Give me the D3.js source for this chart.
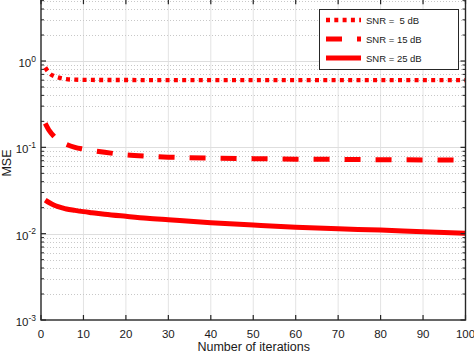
<!DOCTYPE html>
<html>
<head>
<meta charset="utf-8">
<script src="https://cdn.jsdelivr.net/npm/d3@7"></script>
<style>
  body { margin: 0; background: #fff; }
  svg text { font-family: "Liberation Sans", Arial, sans-serif; fill: #1a1a1a; }
</style>
</head>
<body>
<div id="chart-area"></div>
<script>
// data
let iterations = [1, 2, 3, 4, 5, 6, 8, 10, 12, 15, 20, 25, 30, 40, 50, 60, 70, 80, 90, 100];
let mse5 = [0.84, 0.72, 0.67, 0.645, 0.627, 0.616, 0.608, 0.605, 0.604, 0.603, 0.602, 0.601, 0.601, 0.600, 0.600, 0.600, 0.600, 0.600, 0.600, 0.600];
let mse15 = [0.19, 0.155, 0.135, 0.122, 0.114, 0.108, 0.1, 0.0955, 0.092, 0.0875, 0.082, 0.079, 0.077, 0.075, 0.074, 0.073, 0.0725, 0.072, 0.0715, 0.071];
let mse25 = [0.0245, 0.0228, 0.0215, 0.0206, 0.0199, 0.0193, 0.0186, 0.018, 0.0175, 0.0168, 0.0159, 0.0151, 0.0145, 0.0134, 0.0126, 0.0119, 0.0114, 0.011, 0.0105, 0.0101];
let seriesNames = ["SNR =  5 dB", "SNR = 15 dB", "SNR = 25 dB"];
let xTicks = [0, 10, 20, 30, 40, 50, 60, 70, 80, 90, 100];
let yMajor = [1e-3, 1e-2, 1e-1, 1e0];
let yExp = ["-3", "-2", "-1", "0"];

let W = 474, H = 354;
let pLeft = 41, pRight = 465.5, pBottom = 320;
let yTopVal = 5.2;

let svg = d3.select("#chart-area").append("svg")
    .attr("width", W).attr("height", H);

// Scales
let x = d3.scaleLinear().domain([0, 100]).range([pLeft, pRight]);
let y = d3.scaleLog().domain([1e-3, yTopVal]).range([pBottom, -0.8]);
let pTop = y(yTopVal);

// minor ticks 2..9 per decade
let yMinor = [];
[1e-3, 1e-2, 1e-1, 1].forEach(b => {
    for (let k = 2; k <= 9; k++) if (b * k <= yTopVal) yMinor.push(b * k);
});

// grid
let grid = svg.append("g");
grid.selectAll(".gx").data(xTicks.slice(1, -1)).enter().append("line")
    .attr("x1", d => x(d)).attr("x2", d => x(d))
    .attr("y1", pTop).attr("y2", pBottom)
    .attr("stroke", "#e3e3e3").attr("stroke-width", 1);
grid.selectAll(".gmin").data(yMinor).enter().append("line")
    .attr("x1", pLeft).attr("x2", pRight)
    .attr("y1", d => Math.round(y(d)) + 0.5).attr("y2", d => Math.round(y(d)) + 0.5)
    .attr("stroke", "#c8c8c8").attr("stroke-width", 1)
    .attr("stroke-dasharray", "1,2");
grid.selectAll(".gmaj").data(yMajor.slice(1)).enter().append("line")
    .attr("x1", pLeft).attr("x2", pRight)
    .attr("y1", d => Math.round(y(d)) + 0.5).attr("y2", d => Math.round(y(d)) + 0.5)
    .attr("stroke", "#dedede").attr("stroke-width", 1);

// curves
svg.append("clipPath").attr("id", "clip").append("rect")
    .attr("x", pLeft).attr("y", pTop).attr("width", pRight - pLeft).attr("height", pBottom - pTop);

let line = d3.line()
    .x((d, i) => x(iterations[i]))
    .y(d => y(d))
    .curve(d3.curveMonotoneX);

let styles = [
    {data: mse5, dash: "4,4.3", width: 4.4},
    {data: mse15, dash: "16,15", width: 5},
    {data: mse25, dash: null, width: 5}
];

let plot = svg.append("g").attr("clip-path", "url(#clip)");
styles.forEach(s => {
    plot.append("path")
        .attr("d", line(s.data))
        .attr("fill", "none")
        .attr("stroke", "#ff0000")
        .attr("stroke-width", s.width)
        .attr("stroke-dasharray", s.dash);
});

// axes box + ticks (inward)
let axisCol = "#262626";
let ax = svg.append("g");
ax.append("rect")
    .attr("x", pLeft).attr("y", pTop).attr("width", pRight - pLeft).attr("height", pBottom - pTop)
    .attr("fill", "none").attr("stroke", axisCol).attr("stroke-width", 1.4);

xTicks.forEach(t => {
    ax.append("line").attr("x1", x(t)).attr("x2", x(t)).attr("y1", pBottom).attr("y2", pBottom - 5)
        .attr("stroke", axisCol).attr("stroke-width", 1.2);
    ax.append("line").attr("x1", x(t)).attr("x2", x(t)).attr("y1", pTop).attr("y2", pTop + 5)
        .attr("stroke", axisCol).attr("stroke-width", 1.2);
    ax.append("text").attr("x", x(t)).attr("y", 337.5)
        .attr("text-anchor", "middle").attr("font-size", "11.5px").text(t);
});

yMajor.forEach((t, i) => {
    ax.append("line").attr("x1", pLeft).attr("x2", pLeft + 5).attr("y1", y(t)).attr("y2", y(t))
        .attr("stroke", axisCol).attr("stroke-width", 1.2);
    ax.append("line").attr("x1", pRight).attr("x2", pRight - 5).attr("y1", y(t)).attr("y2", y(t))
        .attr("stroke", axisCol).attr("stroke-width", 1.2);
    let lbl = ax.append("text").attr("x", 36).attr("y", y(t) + 6)
        .attr("text-anchor", "end").attr("font-size", "11.5px");
    lbl.append("tspan").text("10");
    lbl.append("tspan").attr("dy", -5.5).attr("font-size", "8.5px").text(yExp[i]);
});
yMinor.forEach(t => {
    ax.append("line").attr("x1", pLeft).attr("x2", pLeft + 3).attr("y1", y(t)).attr("y2", y(t))
        .attr("stroke", axisCol);
    ax.append("line").attr("x1", pRight).attr("x2", pRight - 3).attr("y1", y(t)).attr("y2", y(t))
        .attr("stroke", axisCol);
});

// Labels
svg.append("text")
    .attr("x", (pLeft + pRight) / 2 + 0.5).attr("y", 350.5)
    .attr("text-anchor", "middle").attr("font-size", "12.5px")
    .text("Number of iterations");
svg.append("text")
    .attr("transform", "translate(11," + 163 + ") rotate(-90)")
    .attr("text-anchor", "middle").attr("font-size", "12.5px")
    .text("MSE");

// LEGEND
let legend = svg.append("g");
legend.append("rect")
    .attr("x", 319.5).attr("y", 9.5).attr("width", 139).attr("height", 60)
    .attr("fill", "#fff").attr("stroke", axisCol).attr("stroke-width", 1);

styles.forEach((s, i) => {
    let ly = 20 + i * 19;
    legend.append("line")
        .attr("x1", 326).attr("x2", 361).attr("y1", ly).attr("y2", ly)
        .attr("stroke", "#ff0000").attr("stroke-width", s.width)
        .attr("stroke-dasharray", s.dash);
    legend.append("text")
        .attr("x", 366).attr("y", ly + 3.5)
        .attr("font-size", "9.5px")
        .style("white-space", "pre")
        .text(seriesNames[i]);
});
</script>
</body>
</html>
